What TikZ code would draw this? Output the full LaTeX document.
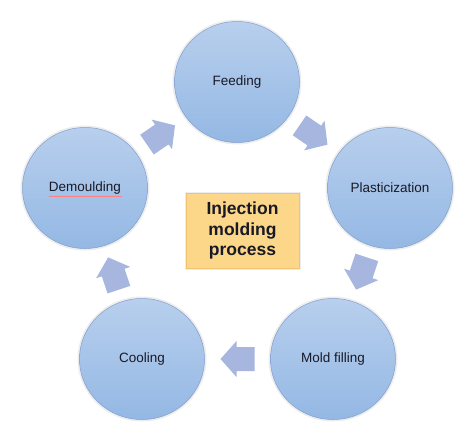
\documentclass[tikz,border=0pt]{standalone}
\usepackage{fontspec}
\setmainfont{Liberation Sans}
\usetikzlibrary{shapes,calc}
\definecolor{bleuhaut}{RGB}{184,207,237}
\definecolor{bleubas}{RGB}{148,184,228}
\definecolor{bleubord}{RGB}{128,158,206}
\definecolor{flechebleu}{RGB}{166,182,222}
\definecolor{jaune}{RGB}{252,215,137}
\definecolor{jaunebord}{RGB}{238,196,112}
\definecolor{encre}{RGB}{25,25,38}

\begin{document}
\begin{tikzpicture}[x=1pt,y=-1pt,
  etape/.style={ellipse, minimum width=125pt, minimum height=121pt, inner sep=0pt,
    top color=bleuhaut, bottom color=bleubas, draw=bleubord, line width=0.5pt,
    preaction={draw=black!7, line width=4pt},
    text=encre, font=\fontsize{13.5}{16}\selectfont},
  fleche/.pic={\fill[flechebleu] (-17,-12) -- (1,-12) -- (1,-18) -- (17,0)
    -- (1,18) -- (1,12) -- (-17,12) -- cycle;},
  boite/.style={rectangle, minimum width=113pt, minimum height=75pt,
    fill=jaune, draw=jaunebord, line width=0.8pt, align=center,
    preaction={draw=black!7, line width=3pt},
    text=encre, font=\bfseries\fontsize{17.5}{20.5}\selectfont}]
  \useasboundingbox (0,0) rectangle (474,440);

  % Etapes.
  \node[etape] (feed) at (237,82) {Feeding};
  \node[etape] (plast) at (390,188) {Plasticization};
  \node[etape] (mold) at (333,359) {Mold filling};
  \node[etape] (cool) at (142,359) {Cooling};
  \node[etape] (demo) at (85,188) {Demoulding};
  \draw[red!50, line width=0.4pt] ([xshift=-36pt,yshift=-8.5pt]demo.center)
    -- ([xshift=37pt,yshift=-8.5pt]demo.center);

  % Centre.
  \node[boite] (titre) at (242.5,230.5) {Injection\\molding\\process};

  % Fleches.
  \pic[rotate=34.5] at ($(demo)!0.5!(feed)$) {fleche};
  \pic[rotate=-34.5] at ($(feed)!0.5!(plast)$) {fleche};
  \pic[rotate=-108.4] at ($(plast)!0.5!(mold)$) {fleche};
  \pic[rotate=180] at ($(mold)!0.5!(cool)$) {fleche};
  \pic[rotate=108.4] at ($(cool)!0.5!(demo)$) {fleche};
\end{tikzpicture}
\end{document}
